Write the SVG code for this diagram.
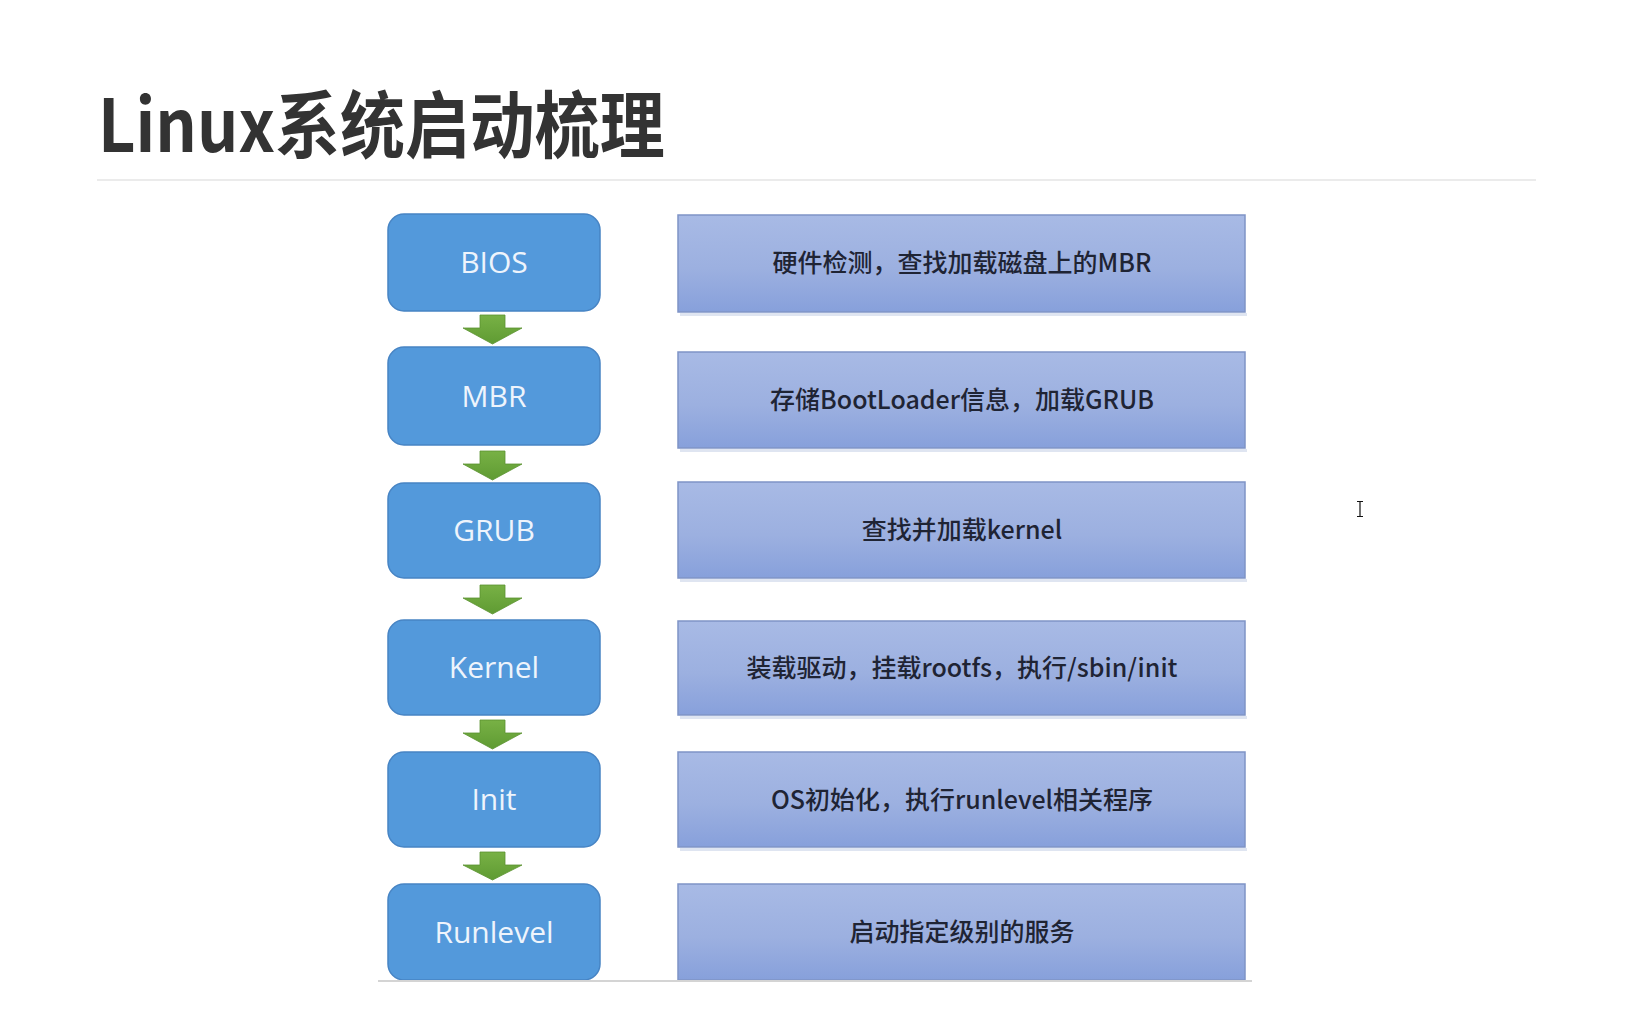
<svg xmlns="http://www.w3.org/2000/svg" width="1644" height="1028" viewBox="0 0 1644 1028">
<defs>
<linearGradient id="gDesc" x1="0" y1="0" x2="0" y2="1">
<stop offset="0" stop-color="#a8bae5"/>
<stop offset="0.55" stop-color="#9cb0e0"/>
<stop offset="1" stop-color="#87a0db"/>
</linearGradient>
<linearGradient id="gArrow" x1="0" y1="0" x2="0" y2="1">
<stop offset="0" stop-color="#78b145"/>
<stop offset="1" stop-color="#5f9b33"/>
</linearGradient>
</defs>
<style>
.title{font-family:"Noto Sans CJK SC","Noto Sans",sans-serif;font-weight:700;font-size:65px;fill:#333333}
.step rect{fill:#5399db;stroke:#4784c4;stroke-width:1.5}
.step text{font-family:"Open Sans","Noto Sans",sans-serif;font-size:30px;fill:#eef4fc;text-anchor:middle}
.desc rect.box{fill:url(#gDesc);stroke:#7f94c6;stroke-width:1.5}
.desc rect.sh{fill:#dfe5f1}
.desc text{font-family:"Noto Sans CJK SC","Noto Sans",sans-serif;font-weight:500;font-size:25px;fill:#1f2434;text-anchor:middle}
.arrow{fill:url(#gArrow);stroke:#5a9230;stroke-width:0.8}
</style>
<rect width="1644" height="1028" fill="#ffffff"/>
<g id="title">
<text class="title" transform="translate(98,152) scale(1,1.12)">Linux系统启动梳理</text>
<line x1="97" y1="180" x2="1536" y2="180" stroke="#ebebeb" stroke-width="2"/>
</g>
<g id="steps">
<g id="step-bios" class="step"><rect x="388" y="214" width="212" height="97" rx="16"/><text x="494" y="273">BIOS</text></g>
<g id="step-mbr" class="step"><rect x="388" y="347" width="212" height="98" rx="16"/><text x="494" y="407">MBR</text></g>
<g id="step-grub" class="step"><rect x="388" y="483" width="212" height="95" rx="16"/><text x="494" y="541">GRUB</text></g>
<g id="step-kernel" class="step"><rect x="388" y="620" width="212" height="95" rx="16"/><text x="494" y="678">Kernel</text></g>
<g id="step-init" class="step"><rect x="388" y="752" width="212" height="95" rx="16"/><text x="494" y="810">Init</text></g>
<g id="step-runlevel" class="step"><rect x="388" y="884" width="212" height="96" rx="16"/><text x="494" y="943">Runlevel</text></g>
</g>
<g id="descriptions">
<g id="desc-bios" class="desc"><rect class="sh" x="680" y="313" width="567" height="3"/><rect class="box" x="678" y="215" width="567" height="97"/><text x="962" y="272">硬件检测，查找加载磁盘上的MBR</text></g>
<g id="desc-mbr" class="desc"><rect class="sh" x="680" y="449" width="567" height="3"/><rect class="box" x="678" y="352" width="567" height="96"/><text x="962" y="409">存储BootLoader信息，加载GRUB</text></g>
<g id="desc-grub" class="desc"><rect class="sh" x="680" y="579" width="567" height="3"/><rect class="box" x="678" y="482" width="567" height="96"/><text x="962" y="539">查找并加载kernel</text></g>
<g id="desc-kernel" class="desc"><rect class="sh" x="680" y="716" width="567" height="3"/><rect class="box" x="678" y="621" width="567" height="94"/><text x="962" y="677">装载驱动，挂载rootfs，执行/sbin/init</text></g>
<g id="desc-init" class="desc"><rect class="sh" x="680" y="848" width="567" height="3"/><rect class="box" x="678" y="752" width="567" height="95"/><text x="962" y="809">OS初始化，执行runlevel相关程序</text></g>
<g id="desc-runlevel" class="desc"><rect class="box" x="678" y="884" width="567" height="96"/><text x="962" y="941">启动指定级别的服务</text></g>
</g>
<g id="connectors">
<polygon class="arrow" points="480,315 505,315 505,328 522,328 492.5,344 463,328 480,328"/>
<polygon class="arrow" points="480,451 505,451 505,464 522,464 492.5,480 463,464 480,464"/>
<polygon class="arrow" points="480,585 505,585 505,598 522,598 492.5,614 463,598 480,598"/>
<polygon class="arrow" points="480,720 505,720 505,733 522,733 492.5,749 463,733 480,733"/>
<polygon class="arrow" points="480,852 505,852 505,865 522,865 492.5,880 463,865 480,865"/>
</g>
<g id="baseline">
<line x1="378" y1="981" x2="1252" y2="981" stroke="#d4d4d4" stroke-width="2"/>
</g>
<g id="cursor" stroke="#111111" stroke-width="1.2" fill="none">
<path d="M1357,501.5 H1363 M1360,501.5 V516.5 M1357,516.5 H1363"/>
</g>
</svg>
